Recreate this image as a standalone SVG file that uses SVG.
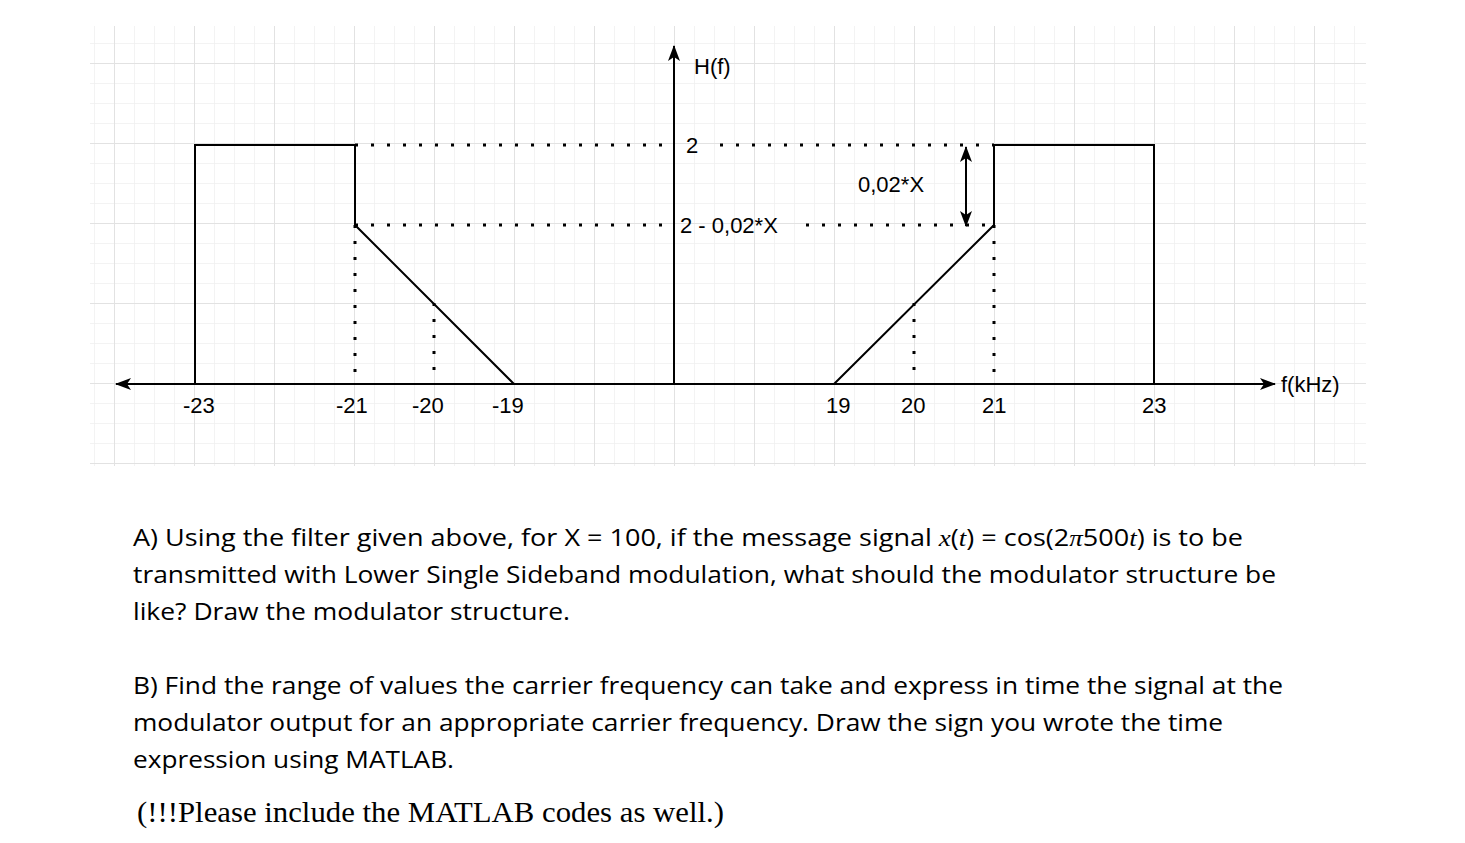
<svg xmlns="http://www.w3.org/2000/svg" width="1465" height="843" viewBox="0 0 1465 843">
<style>
.ln{stroke:#000;stroke-width:2;fill:none}
.dt{stroke:#000;stroke-width:3;stroke-dasharray:3 13;fill:none}
.lb{font-family:Helvetica,'Liberation Sans',Arial,sans-serif;font-size:22px;fill:#000}
.tx{font-family:'Open Sans','Liberation Sans',sans-serif;font-size:24px;fill:#000}
</style>
<defs>
<marker id="ar" viewBox="0 0 16 12" refX="15" refY="6" markerWidth="16" markerHeight="12" markerUnits="userSpaceOnUse" orient="auto-start-reverse"><path d="M0,0 L16,6 L0,12 L4,6 Z" fill="#000"/></marker>
<pattern id="mnp" width="20" height="20" patternUnits="userSpaceOnUse" x="14" y="3"><path d="M0,0 H20 M0,0 V20" stroke="#f0f0f0" stroke-width="1.5" fill="none"/></pattern>
<pattern id="mjp" width="80" height="80" patternUnits="userSpaceOnUse" x="34" y="63"><path d="M0,0 H80 M0,0 V80" stroke="#e2e2e2" stroke-width="2" fill="none"/></pattern>
</defs>
<rect width="1465" height="843" fill="#fff"/>
<g id="grid">
<rect x="90" y="26" width="1276" height="440" fill="url(#mnp)"/>
<rect x="90" y="26" width="1276" height="440" fill="url(#mjp)"/>
</g>
<g id="connectors">
<line class="ln" x1="1275" y1="384" x2="116" y2="384" marker-end="url(#ar)" marker-start="url(#ar)"/>
<line class="ln" x1="674" y1="384" x2="674" y2="46" marker-end="url(#ar)"/>
<line class="ln" x1="966" y1="147" x2="966" y2="226" marker-end="url(#ar)" marker-start="url(#ar)"/>
<path class="dt" d="M355,145 H668 M720,145 H994"/>
<path class="dt" d="M355,225 H668 M806,225 H994"/>
<path class="dt" d="M355,225 V383 M434,303 V383 M914,303 V383 M994,225 V383"/>
</g>
<g id="filter">
<path class="ln" d="M195,384 V145 H355 V225 L514,384"/>
<path class="ln" d="M834,384 L994,225 V145 H1154 V384"/>
</g>
<g id="labels">
<text class="lb" x="694" y="74">H(f)</text>
<text class="lb" x="686" y="153">2</text>
<text class="lb" x="680" y="233">2 - 0,02*X</text>
<text class="lb" x="858" y="192">0,02*X</text>
<text class="lb" x="1281" y="392">f(kHz)</text>
<text class="lb" x="183" y="413">-23</text>
<text class="lb" x="336" y="413">-21</text>
<text class="lb" x="412" y="413">-20</text>
<text class="lb" x="492" y="413">-19</text>
<text class="lb" x="826" y="413">19</text>
<text class="lb" x="901" y="413">20</text>
<text class="lb" x="982" y="413">21</text>
<text class="lb" x="1142" y="413">23</text>
</g>
<g id="question">
<text class="tx" x="133" y="546" textLength="1110" lengthAdjust="spacingAndGlyphs">A) Using the filter given above, for X = 100, if the message signal <tspan font-family="'Liberation Serif',serif" font-style="italic">x</tspan>(<tspan font-family="'Liberation Serif',serif" font-style="italic">t</tspan>) = cos(2<tspan font-family="'Liberation Serif',serif" font-style="italic">π</tspan>500<tspan font-family="'Liberation Serif',serif" font-style="italic">t</tspan>) is to be</text>
<text class="tx" x="133" y="583" textLength="1143" lengthAdjust="spacingAndGlyphs">transmitted with Lower Single Sideband modulation, what should the modulator structure be</text>
<text class="tx" x="133" y="620" textLength="437" lengthAdjust="spacingAndGlyphs">like? Draw the modulator structure.</text>
<text class="tx" x="133" y="694" textLength="1150" lengthAdjust="spacingAndGlyphs">B) Find the range of values the carrier frequency can take and express in time the signal at the</text>
<text class="tx" x="133" y="731" textLength="1090" lengthAdjust="spacingAndGlyphs">modulator output for an appropriate carrier frequency. Draw the sign you wrote the time</text>
<text class="tx" x="133" y="768" textLength="321" lengthAdjust="spacingAndGlyphs">expression using MATLAB.</text>
<text x="137" y="822" font-family="'Liberation Serif','Times New Roman',serif" font-size="29" textLength="587" lengthAdjust="spacingAndGlyphs">(!!!Please include the MATLAB codes as well.)</text>
</g>
</svg>
